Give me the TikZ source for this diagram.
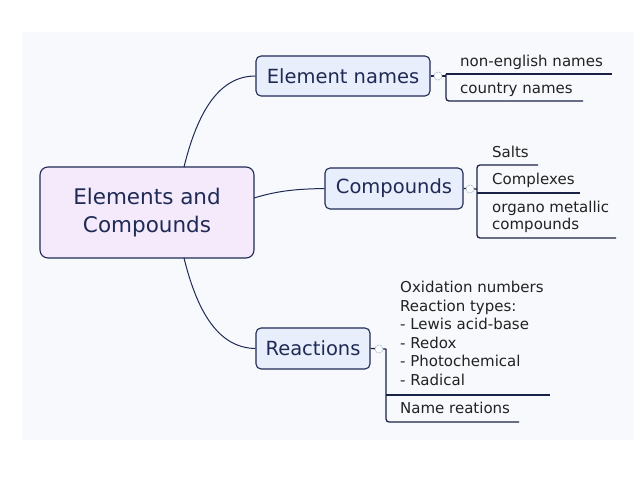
\documentclass[tikz,border=0pt]{standalone}
\usepackage{fontspec}
\setmainfont{DejaVu Sans}
\definecolor{navy}{HTML}{1F2A55}
\definecolor{panel}{HTML}{F7F9FC}
\definecolor{topicfill}{HTML}{E8EEFB}
\definecolor{centfill}{HTML}{F4EAFB}
\definecolor{mark}{HTML}{A9BEDA}
\definecolor{leaftxt}{HTML}{222222}
\begin{document}
\begin{tikzpicture}[x=1pt,y=-1pt,
  topic/.style={draw=navy,line width=1.1pt,rounded corners=5pt,fill=topicfill,text=navy,font=\fontsize{19.5}{23}\selectfont,inner sep=0pt},
  cent/.style={draw=navy,line width=1.1pt,rounded corners=8pt,fill=centfill,text=navy,font=\fontsize{21.5}{28}\selectfont,align=center,inner sep=0pt},
  leaf/.style={anchor=west,text=leaftxt,font=\fontsize{15}{17}\selectfont,align=left,inner sep=0pt},
  conn/.style={draw=navy,line width=1pt},
  br/.style={draw=navy!80!black,line width=1.3pt,rounded corners=3pt},
  mk/.style={draw=mark,line width=0.8pt,dashed,dash pattern=on 2pt off 1pt,fill=white,circle,minimum size=8pt,inner sep=0pt}]
\useasboundingbox (0,0) rectangle (638,478);
\fill[white] (0,0) rectangle (638,478);
\fill[panel] (22,32) rectangle (634,440);
% nodes
\node[cent,minimum width=214pt,minimum height=91pt] (c) at (147,212.5) {Elements and\\ Compounds};
\node[topic,minimum width=174pt,minimum height=40pt] (e) at (343,76) {Element names};
\node[topic,minimum width=138pt,minimum height=41pt] (p) at (394,188.5) {Compounds};
\node[topic,minimum width=114pt,minimum height=41pt] (r) at (313,348.5) {Reactions};
% connectors
\coordinate (ct) at (184,167);
\coordinate (cb) at (184,258);
\draw[conn] (ct) .. controls (198,110) and (220,76) .. (e.west);
\coordinate (cr) at (254,198);
\draw[conn] (cr) .. controls (280,190) and (300,189) .. (p.west);
\draw[conn] (cb) .. controls (198,315) and (220,348) .. (r.west);
% markers
\draw[br] (e.east) -- (446,76);
\draw[br] (p.east) -- (477,189);
\draw[br] (r.east) -- (386,349);
\node[mk] (me) at (438,76) {};
\node[mk] (mp) at (470,189) {};
\node[mk] (mr) at (379,349) {};
% element names leaves
\node[leaf] (l1) at (460,62) {non-english names};
\node[leaf] (l2) at (460,90) {country names};
\coordinate (a1) at (612,74);
\coordinate (a2) at (583,101);
\draw[br] (446,74) -- (a1);
\draw[br] (446,74) -- (446,101) -- (a2);
% compounds leaves
\node[leaf] (s1) at (492,152) {Salts};
\node[leaf] (s2) at (492,180) {Complexes};
\node[leaf] (s3) at (492,216.5) {organo metallic\\compounds};
\coordinate (b1) at (538,165);
\coordinate (b2) at (580,193);
\coordinate (b3) at (616,238);
\draw[br] (b1) -- (477,165) -- (477,238) -- (b3);
\draw[br] (477,193) -- (b2);
% reactions leaves
\node[leaf,font=\fontsize{15}{18.6}\selectfont] (t1) at (400,333.5) {Oxidation numbers\\Reaction types:\\- Lewis acid-base\\- Redox\\- Photochemical\\- Radical};
\node[leaf] (t2) at (400,408) {Name reations};
\coordinate (d1) at (550,395);
\coordinate (d2) at (519,422);
\draw[br] (386,349) -- (386,422) -- (d2);
\draw[br] (386,395) -- (d1);
\end{tikzpicture}
\end{document}
